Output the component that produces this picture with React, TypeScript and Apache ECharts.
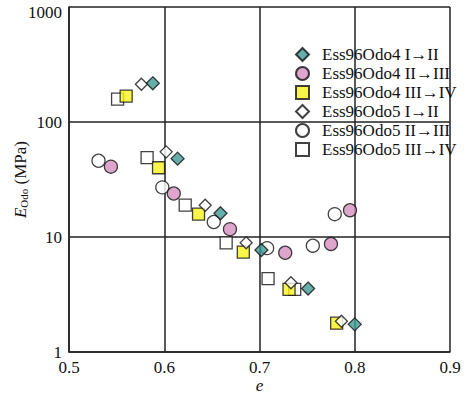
import React, { useEffect, useRef } from "react";
import * as echarts from "echarts";

const seriesNames = [
  "Ess96Odo4 I→II",
  "Ess96Odo4 II→III",
  "Ess96Odo4 III→IV",
  "Ess96Odo5 I→II",
  "Ess96Odo5 II→III",
  "Ess96Odo5 III→IV",
];

const odo4_I_II: [number, number][] = [
  [0.588, 217], [0.614, 48], [0.659, 16.1], [0.702, 7.7], [0.751, 3.56], [0.8, 1.74],
];
const odo4_II_III: [number, number][] = [
  [0.544, 40.9], [0.61, 23.9], [0.669, 11.7], [0.727, 7.3], [0.775, 8.7], [0.795, 17.1],
];
const odo4_III_IV: [number, number][] = [
  [0.56, 168], [0.594, 40], [0.636, 15.8], [0.683, 7.4], [0.731, 3.5], [0.781, 1.78],
];
const odo5_I_II: [number, number][] = [
  [0.576, 213], [0.602, 55], [0.643, 18.9], [0.686, 8.9], [0.733, 4.0], [0.786, 1.85],
];
const odo5_II_III: [number, number][] = [
  [0.531, 46], [0.598, 27], [0.652, 13.5], [0.708, 8.0], [0.756, 8.4], [0.779, 15.8],
];
const odo5_III_IV: [number, number][] = [
  [0.551, 158], [0.582, 49], [0.622, 18.9], [0.665, 8.9], [0.709, 4.35], [0.737, 3.5],
];

const xTicks = [0.5, 0.6, 0.7, 0.8, 0.9];
const yMin = 1;
const yMax = 1000;

const FONT = "'Liberation Serif', 'Times New Roman', Times, serif";

export default function App() {
  const ref = useRef<HTMLDivElement>(null);
  useEffect(() => {
    if (!ref.current) return;
    const chart = echarts.init(ref.current, undefined, { renderer: "svg" });
    const border = { borderColor: "#111", borderWidth: 1.3 };
    const mk = (name: string, data: [number, number][], symbol: string, color: string, size: number, z: number) => ({
      name,
      type: "scatter",
      data,
      symbol,
      symbolSize: size,
      z,
      itemStyle: { color, ...border },
    });
    chart.setOption({
      animation: false,
      grid: { left: 69, right: 24, top: 7, bottom: 43, show: false, outerBoundsMode: "none", containLabel: false },
      legend: {
        orient: "vertical",
        left: 290,
        top: 41,
        itemWidth: 13,
        itemHeight: 13,
        itemGap: 2,
        data: seriesNames,
        textStyle: { fontFamily: FONT, fontSize: 17, color: "#111", padding: [0, 0, 0, 8] },
      },
      xAxis: {
        type: "value",
        min: xTicks[0],
        max: xTicks[xTicks.length - 1],
        interval: 0.1,
        name: "e",
        nameLocation: "middle",
        nameGap: 25,
        nameMoveOverlap: false,
        nameTextStyle: { fontFamily: FONT, fontSize: 17, fontStyle: "italic", color: "#111" },
        axisLine: { show: true, lineStyle: { color: "#222", width: 1.5 } },
        axisTick: { show: false },
        axisLabel: {
          fontFamily: FONT,
          fontSize: 17,
          color: "#111",
          margin: 7,
          formatter: (v: number) => v.toFixed(1),
        },
        splitLine: { show: true, lineStyle: { color: "#222", width: 1.5 } },
      },
      yAxis: {
        type: "log",
        logBase: 10,
        min: yMin,
        max: yMax,
        name: "{i|E}{s|Odo} (MPa)",
        nameLocation: "middle",
        nameGap: 40,
        nameMoveOverlap: false,
        nameTextStyle: {
          fontFamily: FONT,
          fontSize: 17,
          color: "#111",
          rich: {
            i: { fontFamily: FONT, fontSize: 17, fontStyle: "italic", color: "#111" },
            s: { fontFamily: FONT, fontSize: 11, color: "#111", padding: [6, 0, 0, 0] },
          },
        },
        axisLine: { show: true, lineStyle: { color: "#222", width: 1.5 } },
        axisTick: { show: false },
        axisLabel: {
          fontFamily: FONT,
          fontSize: 17,
          color: "#111",
          margin: 7,
          formatter: (v: number) => {
            const s = String(Math.round(v));
            if (Math.round(v) === yMax) return "{t|" + s + "}";
            return s;
          },
          rich: {
            t: { fontFamily: FONT, fontSize: 17, color: "#111", padding: [10, 0, 0, 0] },
          },
        },
        splitLine: { show: true, lineStyle: { color: "#222", width: 1.5 } },
      },
      series: [
        mk(seriesNames[0], odo4_I_II, "diamond", "#3f9a93", 13, 3),
        mk(seriesNames[1], odo4_II_III, "circle", "#d690c0", 13, 3),
        mk(seriesNames[2], odo4_III_IV, "rect", "#f7f21e", 12, 3),
        mk(seriesNames[3], odo5_I_II, "diamond", "#ffffff", 12, 4),
        mk(seriesNames[4], odo5_II_III, "circle", "#ffffff", 13, 2),
        mk(seriesNames[5], odo5_III_IV, "rect", "#ffffff", 12, 2),
      ],
    });
    return () => chart.dispose();
  }, []);
  return (
    <div
      ref={ref}
      style={{ position: "fixed", left: 0, top: 0, width: 474, height: 395, background: "#fff" }}
    />
  );
}
